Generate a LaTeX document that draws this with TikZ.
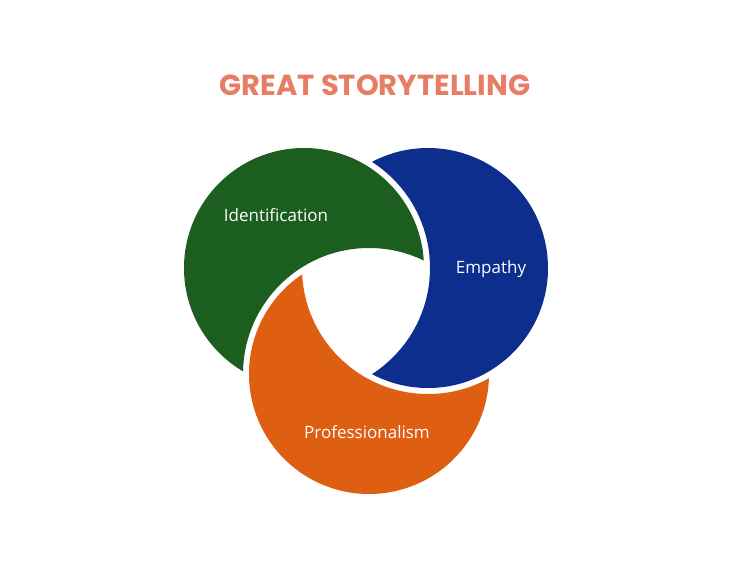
\documentclass[tikz,border=0pt]{standalone}
\usepackage{fontspec}
\setmainfont{Open Sans}
\newfontfamily\titlefont{Poppins}
\usepackage{xcolor}
\usepackage{tikz}
\definecolor{idgreen}{RGB}{27,94,32}
\definecolor{empblue}{RGB}{13,46,140}
\definecolor{proforange}{RGB}{222,94,18}
\definecolor{titlesalmon}{RGB}{232,125,102}
\newcommand{\crescent}[3]{\begin{scope}[even odd rule]
    \clip (0,0) rectangle (750,563) (#3) circle (126);
    \fill[#1] (#2) circle (120);
  \end{scope}}

\begin{document}
\begin{tikzpicture}[x=1pt,y=-1pt]
    \useasboundingbox (0,0) rectangle (750,563);

    \coordinate (g) at (304,268);
    \coordinate (b) at (428,268);
    \coordinate (o) at (369,374);

    \crescent{idgreen}{g}{o};
    \crescent{empblue}{b}{g};
    \crescent{proforange}{o}{b};

    \node[text=titlesalmon, font=\titlefont\fontsize{29}{34}\selectfont\bfseries] (title) at (375,85) {GREAT STORYTELLING};
    \node[text=white, font=\fontsize{17}{20}\selectfont] (ident) at (276,215) {Identification};
    \node[text=white, font=\fontsize{17}{20}\selectfont] (emp) at (491,269) {Empathy};
    \node[text=white, font=\fontsize{17}{20}\selectfont] (prof) at (367,432) {Professionalism};
  \end{tikzpicture}
\end{document}
